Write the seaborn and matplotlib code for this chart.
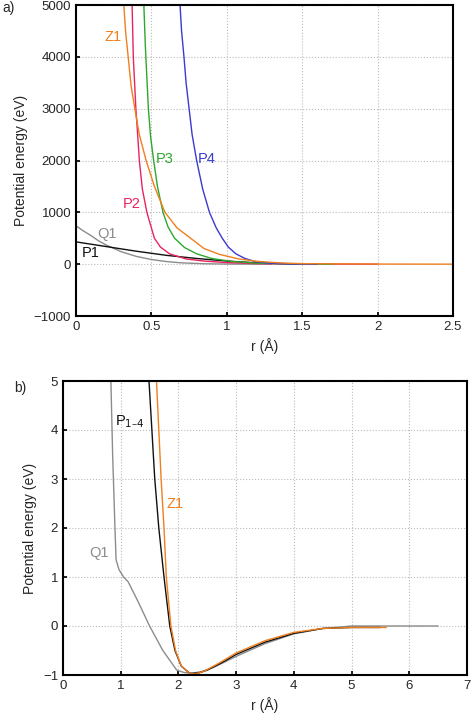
import matplotlib
matplotlib.use("Agg")
import matplotlib.pyplot as plt
import seaborn as sns

sns.set_theme(style="white")
plt.rcParams['font.family'] = ['Liberation Sans', 'DejaVu Sans']

# Panel a
z1_a_x = [0.317,0.33,0.346,0.365,0.39,0.42,0.465,0.52,0.59,0.67,0.76,0.85,0.95,1.08,1.2,1.35,1.5,2.0,2.5]
z1_a_y = [5000,4450,4000,3450,3000,2500,2000,1500,1000,700,500,300,190,100,55,25,10,2,0]
p2_x = [0.372,0.38,0.397,0.41,0.42,0.44,0.47,0.50,0.52,0.56,0.62,0.73,0.85,1.0,1.2,1.5,2.0]
p2_y = [5000,4000,3000,2450,2000,1450,1000,700,500,330,200,100,60,30,10,3,0]
p3_x = [0.45,0.46,0.48,0.495,0.515,0.54,0.577,0.61,0.654,0.72,0.80,0.9,1.04,1.2,1.4,1.7]
p3_y = [5000,4200,3000,2450,2000,1500,1000,720,500,320,200,110,50,20,6,0]
p4_x = [0.69,0.70,0.716,0.73,0.75,0.77,0.80,0.84,0.885,0.93,0.97,1.01,1.06,1.12,1.19,1.28,1.4,1.6]
p4_y = [5000,4500,4000,3500,3000,2500,2000,1450,1000,700,500,330,200,110,50,20,5,0]
q1_a_x = [0.0,0.05,0.1,0.15,0.2,0.3,0.4,0.5,0.6,0.7,0.85,1.0,1.3]
q1_a_y = [740,640,550,450,370,240,150,90,50,25,8,2,0]
p1_x = [0.0,0.2,0.4,0.6,0.8,1.0,1.2,1.4,1.6]
p1_y = [430,340,250,170,110,60,25,8,0]

# Panel b
q1_b_x = [0.83,0.86,0.9,0.92,0.97,1.05,1.13,1.3,1.5,1.73,1.97,2.1,2.25,2.4,2.6,3.0,3.5,4.0,4.5,5.0,6.5]
q1_b_y = [5,3.5,2,1.35,1.15,1.0,0.9,0.5,0.0,-0.5,-0.9,-0.95,-0.96,-0.93,-0.85,-0.62,-0.36,-0.16,-0.05,0,0]
p14_x = [1.49,1.54,1.59,1.66,1.75,1.85,1.94,2.05,2.2,2.35,2.5,2.75,3.0,3.5,4.0,4.5,5.0,5.5]
p14_y = [5,4.0,3.0,2.0,1.0,0.0,-0.5,-0.82,-0.97,-0.96,-0.9,-0.75,-0.58,-0.33,-0.15,-0.05,-0.03,-0.03]
z1_b_x = [1.62,1.66,1.70,1.75,1.79,1.87,1.95,2.05,2.2,2.3,2.45,2.7,3.0,3.5,4.0,4.5,5.0,5.6]
z1_b_y = [5,4.0,3.0,2.0,1.0,0.0,-0.5,-0.82,-0.97,-0.98,-0.92,-0.76,-0.55,-0.3,-0.13,-0.05,-0.03,-0.03]

ORANGE = '#f07f1e'; PINK = '#e8245f'; GREEN = '#2da82d'; BLUE = '#3a3ad0'
GRAY = '#8c8c8c'; BLACK = '#111111'

fig = plt.figure(figsize=(4.74, 7.22), dpi=100)
ax1 = fig.add_axes([76/474, 1-316/722, 377/474, 311/722])
ax2 = fig.add_axes([63/474, 1-675/722, 404/474, 294/722])

def draw(ax, x, y, c):
    sns.lineplot(x=x, y=y, ax=ax, color=c, lw=1.0, sort=False, estimator=None)

for x, y, c in [(q1_a_x,q1_a_y,GRAY),(p1_x,p1_y,BLACK),(p2_x,p2_y,PINK),(p3_x,p3_y,GREEN),(p4_x,p4_y,BLUE),(z1_a_x,z1_a_y,ORANGE)]:
    draw(ax1, x, y, c)
for x, y, c in [(q1_b_x,q1_b_y,GRAY),(p14_x,p14_y,BLACK),(z1_b_x,z1_b_y,ORANGE)]:
    draw(ax2, x, y, c)

ax1.set_xlim(0, 2.5); ax1.set_ylim(-1000, 5000)
ax1.set_xticks([0,0.5,1,1.5,2,2.5]); ax1.set_xticklabels(['0','0.5','1','1.5','2','2.5'])
ax1.set_yticks(range(-1000, 5001, 1000))
ax2.set_xlim(0, 7); ax2.set_ylim(-1, 5)
ax2.set_xticks(range(0, 8)); ax2.set_yticks(range(-1, 6))
for ax in (ax1, ax2):
    ax.grid(True, ls=':', color='#bbbbbb', lw=0.8)
    for s in ax.spines.values():
        s.set_color('black'); s.set_linewidth(1.5)
    ax.tick_params(labelsize=9.5, direction='in', length=3, color='black', bottom=True, left=True)
    ax.set_xlabel('r (Å)', fontsize=10)
    ax.set_ylabel('Potential energy (eV)', fontsize=10)

ax1.text(0.19, 4300, 'Z1', color=ORANGE, fontsize=10.5)
ax1.text(0.31, 1080, 'P2', color=PINK, fontsize=10.5)
ax1.text(0.53, 1960, 'P3', color=GREEN, fontsize=10.5)
ax1.text(0.81, 1960, 'P4', color=BLUE, fontsize=10.5)
ax1.text(0.14, 500, 'Q1', color=GRAY, fontsize=10.5)
ax1.text(0.04, 130, 'P1', color=BLACK, fontsize=10.5)
ax2.text(0.9, 4.1, 'P$_{1\u20134}$', color=BLACK, fontsize=10.5)
ax2.text(1.79, 2.4, 'Z1', color=ORANGE, fontsize=10.5)
ax2.text(0.46, 1.4, 'Q1', color=GRAY, fontsize=10.5)
fig.text(0.005, 1-12/722, 'a)', fontsize=10)
fig.text(0.03, 1-392/722, 'b)', fontsize=10)

fig.savefig('out.png', dpi=100)
